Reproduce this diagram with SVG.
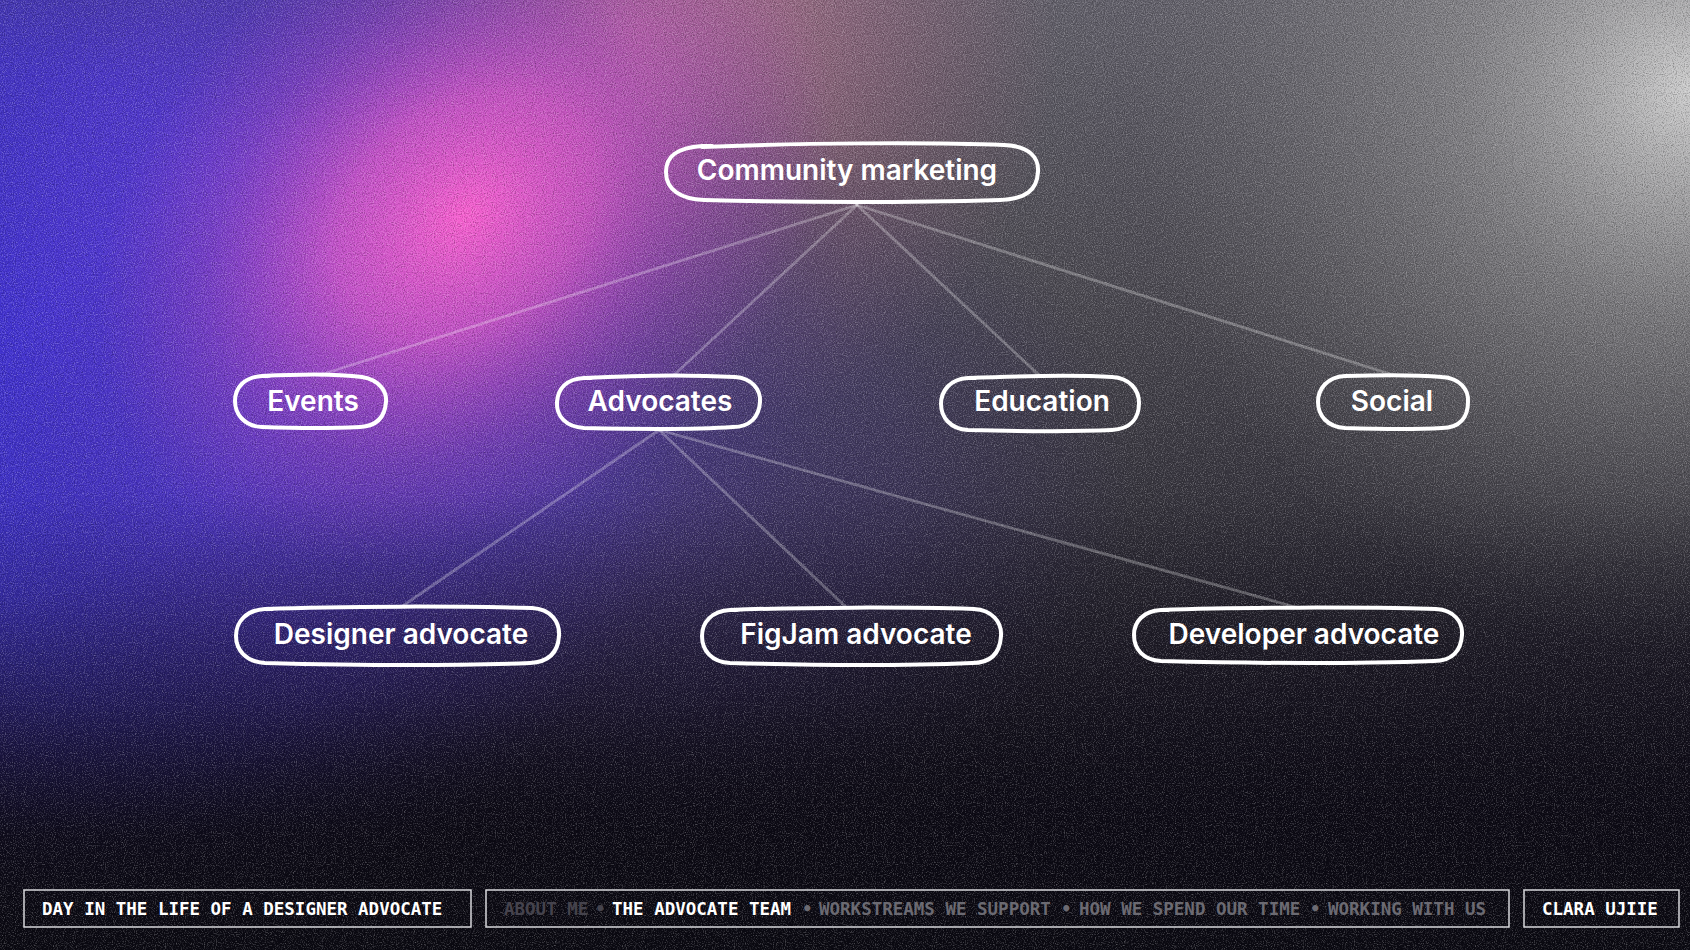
<svg xmlns="http://www.w3.org/2000/svg" width="1690" height="950" viewBox="0 0 1690 950">
  <defs>
    <linearGradient id="base" x1="0" y1="0" x2="0" y2="1">
      <stop offset="0" stop-color="#62606a"/>
      <stop offset="0.3" stop-color="#4c4a52"/>
      <stop offset="0.55" stop-color="#34323b"/>
      <stop offset="0.72" stop-color="#201d29"/>
      <stop offset="0.86" stop-color="#110e1a"/>
      <stop offset="1" stop-color="#0b0a12"/>
    </linearGradient>
    <radialGradient id="grey" gradientUnits="userSpaceOnUse" cx="1690" cy="90" r="560">
      <stop offset="0" stop-color="#d2d2d2" stop-opacity="0.95"/>
      <stop offset="0.4" stop-color="#a0a0a0" stop-opacity="0.55"/>
      <stop offset="1" stop-color="#777777" stop-opacity="0"/>
    </radialGradient>
    <radialGradient id="blue" gradientUnits="userSpaceOnUse" cx="0" cy="330" r="700" gradientTransform="translate(0 330) scale(1 0.95) translate(0 -330)">
      <stop offset="0" stop-color="#3a33de" stop-opacity="1"/>
      <stop offset="0.4" stop-color="#4135d2" stop-opacity="0.95"/>
      <stop offset="0.72" stop-color="#3a2ca8" stop-opacity="0.6"/>
      <stop offset="1" stop-color="#2a2070" stop-opacity="0"/>
    </radialGradient>
    <radialGradient id="violet" gradientUnits="userSpaceOnUse" cx="330" cy="260" r="520">
      <stop offset="0" stop-color="#7a44dc" stop-opacity="0.75"/>
      <stop offset="0.55" stop-color="#5a36c0" stop-opacity="0.4"/>
      <stop offset="1" stop-color="#302070" stop-opacity="0"/>
    </radialGradient>
    <radialGradient id="wash" gradientUnits="userSpaceOnUse" cx="560" cy="480" r="480" gradientTransform="translate(560 480) scale(1.2 0.8) translate(-560 -480)">
      <stop offset="0" stop-color="#5a40c0" stop-opacity="0.5"/>
      <stop offset="0.6" stop-color="#4a34a0" stop-opacity="0.25"/>
      <stop offset="1" stop-color="#302070" stop-opacity="0"/>
    </radialGradient>
    <radialGradient id="pink" gradientUnits="userSpaceOnUse" cx="465" cy="215" r="390" gradientTransform="translate(465 215) rotate(-40) scale(1.05 0.78) translate(-465 -215)">
      <stop offset="0" stop-color="#f660cf" stop-opacity="1"/>
      <stop offset="0.35" stop-color="#e25acb" stop-opacity="0.75"/>
      <stop offset="0.7" stop-color="#b84ac4" stop-opacity="0.3"/>
      <stop offset="1" stop-color="#a040c0" stop-opacity="0"/>
    </radialGradient>
    <radialGradient id="salmon" gradientUnits="userSpaceOnUse" cx="640" cy="30" r="420">
      <stop offset="0" stop-color="#d87e9c" stop-opacity="0.8"/>
      <stop offset="0.5" stop-color="#c07096" stop-opacity="0.4"/>
      <stop offset="1" stop-color="#a06080" stop-opacity="0"/>
    </radialGradient>
    <linearGradient id="dark" x1="0" y1="0" x2="0" y2="1">
      <stop offset="0" stop-color="#0c0a14" stop-opacity="0"/>
      <stop offset="0.52" stop-color="#0c0a14" stop-opacity="0"/>
      <stop offset="0.74" stop-color="#0c0a14" stop-opacity="0.45"/>
      <stop offset="0.88" stop-color="#0c0a14" stop-opacity="0.9"/>
      <stop offset="1" stop-color="#0b0a12" stop-opacity="1"/>
    </linearGradient>
    <filter id="grainW" x="0" y="0" width="100%" height="100%" color-interpolation-filters="sRGB">
      <feTurbulence type="fractalNoise" baseFrequency="0.9" numOctaves="2" seed="3" stitchTiles="stitch"/>
      <feColorMatrix type="matrix" values="0 0 0 0 1  0 0 0 0 1  0 0 0 0 1  2.2 0 0 0 -1.1"/>
    </filter>
    <filter id="grainB" x="0" y="0" width="100%" height="100%" color-interpolation-filters="sRGB">
      <feTurbulence type="fractalNoise" baseFrequency="0.9" numOctaves="2" seed="3" stitchTiles="stitch"/>
      <feColorMatrix type="matrix" values="0 0 0 0 0  0 0 0 0 0  0 0 0 0 0  -2.2 0 0 0 1.1"/>
    </filter>
    <style>
      .pill { fill: none; stroke: #ffffff; stroke-width: 4; stroke-linecap: round; stroke-linejoin: round; }
      .lbl { font-family: Inter, "Noto Sans", "Liberation Sans", sans-serif; font-weight: 600; font-size: 28px; fill: #ffffff; text-anchor: middle; }
      .conn { stroke: #ffffff; stroke-opacity: 0.27; stroke-width: 2.8; fill: none; stroke-linecap: round; }
      .fbox { fill: none; stroke: #d8d8dc; stroke-width: 1.5; }
      .ft { font-family: "DejaVu Sans Mono", "Liberation Mono", monospace; font-weight: bold; font-size: 17.5px; fill: #ffffff; }
      .dim { fill: #45434d; }
      .mid { fill: #6b6a72; }
    </style>
  </defs>

  <g id="background">
    <rect x="0" y="0" width="1690" height="950" fill="url(#base)"/>
    <rect x="0" y="0" width="1690" height="950" fill="url(#grey)"/>
    <rect x="0" y="0" width="1690" height="950" fill="url(#salmon)"/>
    <rect x="0" y="0" width="1690" height="950" fill="url(#blue)"/>
    <rect x="0" y="0" width="1690" height="950" fill="url(#violet)"/>
    <rect x="0" y="0" width="1690" height="950" fill="url(#wash)"/>
    <rect x="0" y="0" width="1690" height="950" fill="url(#pink)"/>
    <rect x="0" y="0" width="1690" height="950" fill="url(#dark)"/>
    <rect x="0" y="0" width="1690" height="950" filter="url(#grainW)" opacity="0.35"/>
    <rect x="0" y="0" width="1690" height="950" filter="url(#grainB)" opacity="0.35"/>
  </g>

  <g id="connectors">
    <line class="conn" x1="857" y1="205" x2="323" y2="374"/>
    <line class="conn" x1="857" y1="205" x2="674" y2="375"/>
    <line class="conn" x1="857" y1="205" x2="1040" y2="376"/>
    <line class="conn" x1="857" y1="205" x2="1390" y2="374"/>
    <line class="conn" x1="659" y1="430" x2="401" y2="607"/>
    <line class="conn" x1="659" y1="430" x2="846" y2="607"/>
    <line class="conn" x1="659" y1="430" x2="1299" y2="608"/>
  </g>

  <g id="node-community-marketing">
    <path class="pill" d="M 702,147 C 800,143 930,142 1004,145 C 1030,146 1039,158 1038,172 C 1037,190 1026,199 1000,200 C 900,203 780,202 704,200 C 681,199 666,190 666,172 C 666,156 677,148 702,146 L 712,146"/>
    <text class="lbl" x="847" y="180">Community marketing</text>
  </g>

  <g id="node-events">
    <path class="pill" d="M 262,376 C 300,374 340,374 362,377 C 380,380 387,392 386,402 C 385,416 378,426 360,427 C 320,429 290,428 262,427 C 244,426 235,414 235,401 C 235,388 244,377 262,376 L 270,376"/>
    <text class="lbl" x="313" y="411">Events</text>
  </g>

  <g id="node-advocates">
    <path class="pill" d="M 584,378 C 640,375 700,375 735,377 C 752,378 761,390 760,402 C 759,417 750,427 733,427 C 690,430 630,429 584,428 C 566,427 556,416 557,402 C 558,389 566,379 584,378 L 592,378"/>
    <text class="lbl" x="660" y="411">Advocates</text>
  </g>

  <g id="node-education">
    <path class="pill" d="M 968,378 C 1020,376 1080,375 1112,377 C 1130,378 1139,390 1139,403 C 1139,418 1131,429 1112,430 C 1070,432 1010,431 968,430 C 950,429 941,417 941,404 C 941,391 950,379 968,378 L 976,378"/>
    <text class="lbl" x="1042" y="411">Education</text>
  </g>

  <g id="node-social">
    <path class="pill" d="M 1345,376 C 1380,375 1420,375 1442,377 C 1460,378 1469,390 1468,402 C 1468,417 1460,428 1442,428 C 1410,430 1375,429 1345,428 C 1327,427 1318,415 1318,402 C 1318,389 1327,377 1345,376 L 1352,376"/>
    <text class="lbl" x="1392" y="411">Social</text>
  </g>

  <g id="node-designer-advocate">
    <path class="pill" d="M 265,609 C 340,606 460,606 532,608 C 551,609 560,622 559,636 C 558,652 549,662 530,663 C 450,666 340,665 265,663 C 246,662 236,650 236,636 C 236,622 246,610 265,609 L 273,609"/>
    <text class="lbl" x="401" y="644">Designer advocate</text>
  </g>

  <g id="node-figjam-advocate">
    <path class="pill" d="M 730,610 C 800,607 910,607 974,609 C 992,610 1002,622 1001,636 C 1000,652 992,663 972,663 C 900,666 800,665 730,663 C 711,662 702,650 702,636 C 702,622 712,611 730,610 L 738,610"/>
    <text class="lbl" x="856" y="644">FigJam advocate</text>
  </g>

  <g id="node-developer-advocate">
    <path class="pill" d="M 1161,610 C 1240,607 1360,607 1436,609 C 1454,610 1463,622 1462,635 C 1461,650 1453,661 1434,661 C 1350,664 1240,663 1161,661 C 1143,660 1134,649 1134,635 C 1134,622 1143,611 1161,610 L 1169,610"/>
    <text class="lbl" x="1304" y="644">Developer advocate</text>
  </g>

  <g id="footer">
    <rect class="fbox" x="24" y="890" width="447" height="37"/>
    <text class="ft" x="42" y="915">DAY IN THE LIFE OF A DESIGNER ADVOCATE</text>
    <rect class="fbox" x="486" y="890" width="1023" height="37"/>
    <text class="ft" y="915"><tspan class="dim" x="504">ABOUT ME</tspan><tspan class="dim" x="595">•</tspan><tspan x="612">THE ADVOCATE TEAM</tspan><tspan class="mid" x="802">•</tspan><tspan class="mid" x="819">WORKSTREAMS WE SUPPORT</tspan><tspan class="mid" x="1061">•</tspan><tspan class="mid" x="1079">HOW WE SPEND OUR TIME</tspan><tspan class="mid" x="1310">•</tspan><tspan class="mid" x="1328">WORKING WITH US</tspan></text>
    <rect class="fbox" x="1524" y="890" width="155" height="37"/>
    <text class="ft" x="1542" y="915">CLARA UJIIE</text>
  </g>
</svg>
